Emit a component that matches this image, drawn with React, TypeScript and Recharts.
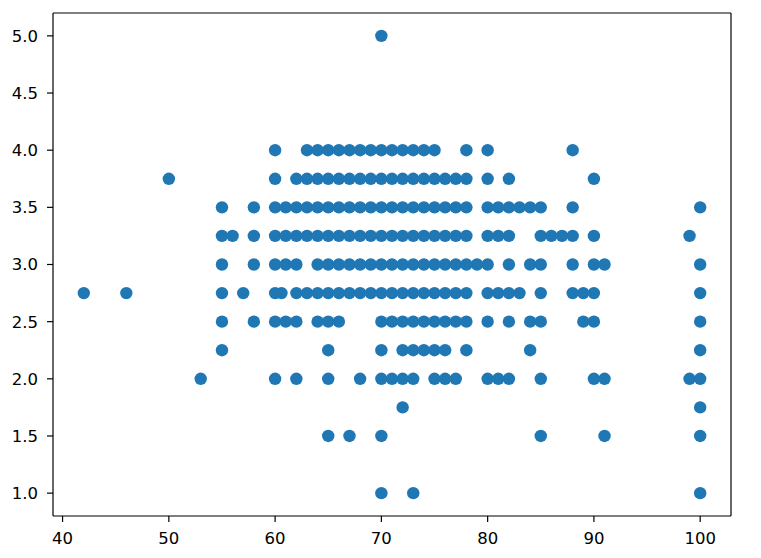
import React from 'react';
import { ScatterChart, Scatter, XAxis, YAxis, ReferenceLine } from 'recharts';

// x values observed at each y level
const yLevels = [5.0, 4.0, 3.75, 3.5, 3.25, 3.0, 2.75, 2.5, 2.25, 2.0, 1.75, 1.5, 1.0];

const xAt500 = [70];
const xAt400 = [60, 63, 64, 65, 66, 67, 68, 69, 70, 71, 72, 73, 74, 75, 78, 80, 88];
const xAt375 = [50, 60, 62, 63, 64, 65, 66, 67, 68, 69, 70, 71, 72, 73, 74, 75, 76, 77, 78, 80, 82, 90];
const xAt350 = [55, 58, 60, 61, 62, 63, 64, 65, 66, 67, 68, 69, 70, 71, 72, 73, 74, 75, 76, 77, 78, 80, 81, 82, 83, 84, 85, 88, 100];
const xAt325 = [55, 56, 58, 60, 61, 62, 63, 64, 65, 66, 67, 68, 69, 70, 71, 72, 73, 74, 75, 76, 77, 78, 80, 81, 82, 85, 86, 87, 88, 90, 99];
const xAt300 = [55, 58, 60, 61, 62, 64, 65, 66, 67, 68, 69, 70, 71, 72, 73, 74, 75, 76, 77, 78, 79, 80, 82, 84, 85, 88, 90, 91, 100];
const xAt275 = [42, 46, 55, 57, 60, 60.6, 62, 63, 64, 65, 66, 67, 68, 69, 70, 71, 72, 73, 74, 75, 76, 77, 78, 80, 81, 82, 83, 85, 88, 89, 90, 100];
const xAt250 = [55, 58, 60, 61, 62, 64, 65, 66, 70, 71, 72, 73, 74, 75, 76, 77, 78, 80, 82, 84, 85, 89, 90, 100];
const xAt225 = [55, 65, 70, 72, 73, 74, 75, 76, 78, 84, 100];
const xAt200 = [53, 60, 62, 65, 68, 70, 71, 72, 73, 75, 76, 77, 80, 81, 82, 85, 90, 91, 99, 100];
const xAt175 = [72, 100];
const xAt150 = [65, 67, 70, 85, 91, 100];
const xAt100 = [70, 73, 100];

const rows = [xAt500, xAt400, xAt375, xAt350, xAt325, xAt300, xAt275, xAt250, xAt225, xAt200, xAt175, xAt150, xAt100];

const xTicks = [40, 50, 60, 70, 80, 90, 100];
const yTicks = [1.0, 1.5, 2.0, 2.5, 3.0, 3.5, 4.0, 4.5, 5.0];

const points = rows.flatMap((xs, i) => xs.map((x) => ({ x, y: yLevels[i] })));

const COLOR = '#1f77b4';
const tickStyle = { fontFamily: 'DejaVu Sans', fontSize: 16.5, fill: '#000' };

const Dot = (props: any) => <circle cx={props.cx} cy={props.cy} r={6.2} fill={COLOR} />;

export default function App() {
  return (
    <div style={{ position: 'absolute', left: 0, top: 0, width: 761, height: 558, background: '#fff' }}>
      <ScatterChart width={761} height={558} margin={{ top: 13, right: 30, bottom: 12, left: 8 }}>
        <XAxis
          type="number"
          dataKey="x"
          domain={[39.1, 102.9]}
          ticks={xTicks}
          allowDataOverflow
          height={30}
          tickSize={6}
          tickMargin={10}
          tick={tickStyle}
          axisLine={{ stroke: '#000', strokeWidth: 1.2 }}
          tickLine={{ stroke: '#000', strokeWidth: 1.2 }}
        />
        <YAxis
          type="number"
          dataKey="y"
          domain={[0.8, 5.2]}
          ticks={yTicks}
          allowDataOverflow
          width={45}
          tickSize={6}
          tickMargin={9}
          tick={tickStyle}
          tickFormatter={(v: number) => v.toFixed(1)}
          axisLine={{ stroke: '#000', strokeWidth: 1.2 }}
          tickLine={{ stroke: '#000', strokeWidth: 1.2 }}
        />
        <ReferenceLine y={5.2} stroke="#000" strokeWidth={1.2} />
        <ReferenceLine x={102.9} stroke="#000" strokeWidth={1.2} />
        <Scatter data={points} fill={COLOR} shape={Dot} isAnimationActive={false} />
      </ScatterChart>
    </div>
  );
}
